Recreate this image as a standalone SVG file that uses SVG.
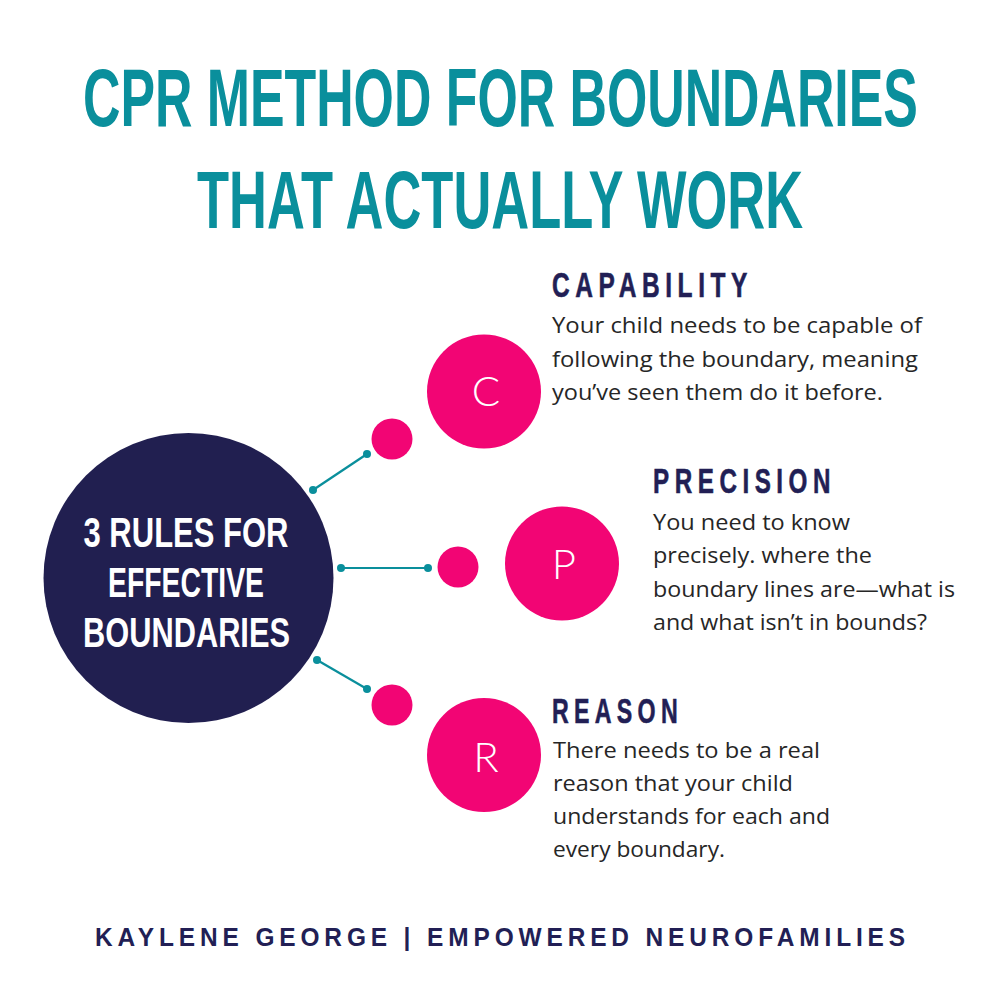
<svg xmlns="http://www.w3.org/2000/svg" width="1000" height="1000" viewBox="0 0 1000 1000">
  <defs>
    <style>
      .title { font-family: "Liberation Sans", Arial, sans-serif; font-weight: 700; font-size: 82px; fill: #0a8f9c; }
      .hub { fill: #211f50; }
      .hubtxt { font-family: "Liberation Sans", Arial, sans-serif; font-weight: 700; font-size: 43px; fill: #ffffff; text-anchor: middle; }
      .pink { fill: #f20574; }
      .letter { font-family: Lato, "Open Sans", sans-serif; font-weight: 300; font-size: 42px; fill: #ffffff; text-anchor: middle; }
      .head { font-family: "Liberation Sans", Arial, sans-serif; font-weight: 700; font-size: 35px; fill: #221f55; letter-spacing: 8px; stroke: #221f55; stroke-width: 0.6px; }
      .body { font-family: "Open Sans", "Noto Sans", sans-serif; font-size: 22px; fill: #262626; }
      .conn line { stroke: #0a8f9c; stroke-width: 2.2; }
      .conn circle { fill: #0a8f9c; }
      .footer { font-family: "Liberation Sans", Arial, sans-serif; font-weight: 700; font-size: 25px; fill: #221f55; letter-spacing: 5px; }
    </style>
  </defs>
  <rect width="1000" height="1000" fill="#ffffff"/>

  <g id="title">
    <text class="title" transform="translate(83 126) scale(0.632 1)" x="0" y="0" textLength="1321" lengthAdjust="spacingAndGlyphs">CPR METHOD FOR BOUNDARIES</text>
    <text class="title" transform="translate(197 228) scale(0.632 1)" x="0" y="0" textLength="959" lengthAdjust="spacingAndGlyphs">THAT ACTUALLY WORK</text>
  </g>

  <g id="connectors" class="conn">
    <line x1="313" y1="490" x2="367" y2="454"/>
    <circle cx="313" cy="490" r="4"/>
    <circle cx="367" cy="454" r="4"/>
    <line x1="341" y1="568" x2="428" y2="568"/>
    <circle cx="341" cy="568" r="4"/>
    <circle cx="428" cy="568" r="4"/>
    <line x1="317" y1="660" x2="367" y2="689"/>
    <circle cx="317" cy="660" r="4"/>
    <circle cx="367" cy="689" r="4"/>
  </g>

  <g id="hub">
    <circle class="hub" cx="188.5" cy="578" r="145"/>
    <text class="hubtxt" x="186" y="547" textLength="205" lengthAdjust="spacingAndGlyphs">3 RULES FOR</text>
    <text class="hubtxt" x="186" y="597" textLength="156" lengthAdjust="spacingAndGlyphs">EFFECTIVE</text>
    <text class="hubtxt" x="186.5" y="647" textLength="207" lengthAdjust="spacingAndGlyphs">BOUNDARIES</text>
  </g>

  <g id="dot-c"><circle class="pink" cx="392" cy="439" r="20.5"/></g>
  <g id="dot-p"><circle class="pink" cx="458" cy="567" r="20.5"/></g>
  <g id="dot-r"><circle class="pink" cx="392" cy="705" r="20.5"/></g>

  <g id="node-c">
    <circle class="pink" cx="484" cy="391.5" r="57"/>
    <text class="letter" x="486" y="406">C</text>
  </g>
  <g id="node-p">
    <circle class="pink" cx="562" cy="563.5" r="57"/>
    <text class="letter" x="564" y="579">P</text>
  </g>
  <g id="node-r">
    <circle class="pink" cx="484" cy="755" r="57"/>
    <text class="letter" x="486" y="772">R</text>
  </g>

  <g id="capability">
    <text class="head" x="552" y="297" textLength="201" lengthAdjust="spacingAndGlyphs">CAPABILITY</text>
    <text class="body" x="552" y="333" textLength="370" lengthAdjust="spacingAndGlyphs">Your child needs to be capable of</text>
    <text class="body" x="552" y="367" textLength="366" lengthAdjust="spacingAndGlyphs">following the boundary, meaning</text>
    <text class="body" x="552" y="400" textLength="331" lengthAdjust="spacingAndGlyphs">you’ve seen them do it before.</text>
  </g>

  <g id="precision">
    <text class="head" x="653" y="493" textLength="183" lengthAdjust="spacingAndGlyphs">PRECISION</text>
    <text class="body" x="653" y="530" textLength="197" lengthAdjust="spacingAndGlyphs">You need to know</text>
    <text class="body" x="653" y="563" textLength="219" lengthAdjust="spacingAndGlyphs">precisely. where the</text>
    <text class="body" x="653" y="597" textLength="302" lengthAdjust="spacingAndGlyphs">boundary lines are—what is</text>
    <text class="body" x="653" y="630" textLength="274" lengthAdjust="spacingAndGlyphs">and what isn’t in bounds?</text>
  </g>

  <g id="reason">
    <text class="head" x="552" y="723" textLength="131" lengthAdjust="spacingAndGlyphs">REASON</text>
    <text class="body" x="553" y="758" textLength="267" lengthAdjust="spacingAndGlyphs">There needs to be a real</text>
    <text class="body" x="553" y="791" textLength="240" lengthAdjust="spacingAndGlyphs">reason that your child</text>
    <text class="body" x="553" y="824" textLength="277" lengthAdjust="spacingAndGlyphs">understands for each and</text>
    <text class="body" x="553" y="857" textLength="172" lengthAdjust="spacingAndGlyphs">every boundary.</text>
  </g>

  <g id="footer">
    <text class="footer" x="95" y="946" textLength="815" lengthAdjust="spacingAndGlyphs">KAYLENE GEORGE | EMPOWERED NEUROFAMILIES</text>
  </g>
</svg>
